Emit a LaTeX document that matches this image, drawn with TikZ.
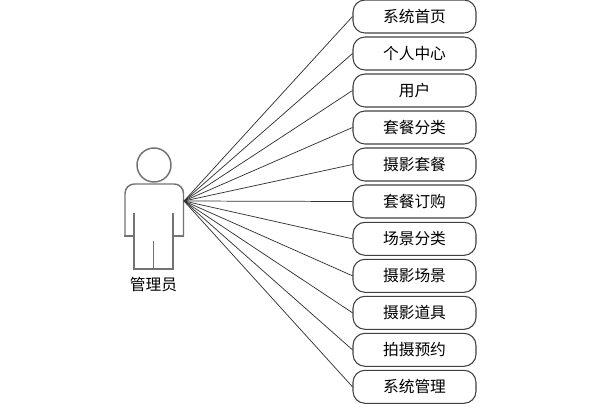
\documentclass[tikz,border=0pt]{standalone}
\usepackage{fontspec}
\setmainfont{Noto Sans CJK SC}
\begin{document}
\begin{tikzpicture}[
        x=0.75pt, y=-0.75pt,
        func/.style={rectangle, rounded corners=9pt, draw=black!75, line width=0.8pt, minimum width=92.25pt, minimum height=24.75pt, inner sep=0pt},
        actor/.style={draw=black!55, line width=1.1pt, line cap=rect},
        edge/.style={draw=black!80, line width=0.55pt},
        every node/.style={font=\fontsize{11.8pt}{13pt}\selectfont}
        ]
      \useasboundingbox (0,0) rectangle (616,411);
      \node[func] (f1) at (414.5,16.5) {系统首页};
      \node[func] (f2) at (414.5,53.5) {个人中心};
      \node[func] (f3) at (414.5,90.5) {用户};
      \node[func] (f4) at (414.5,127.5) {套餐分类};
      \node[func] (f5) at (414.5,164.5) {摄影套餐};
      \node[func] (f6) at (414.5,201.5) {套餐订购};
      \node[func] (f7) at (414.5,238.8) {场景分类};
      \node[func] (f8) at (414.5,275.8) {摄影场景};
      \node[func] (f9) at (414.5,312.8) {摄影道具};
      \node[func] (f10) at (414.5,349.8) {拍摄预约};
      \node[func] (f11) at (414.5,386.8) {系统管理};

      % stick figure
      \node[actor, circle, minimum size=25.5pt, inner sep=0pt] (head) at (154,165) {};
      \draw[actor, rounded corners=7pt] (125,236) -- (125,184) -- (183.5,184) -- (183.5,236);
      \draw[actor] (125,236) -- (134,236);
      \draw[actor] (183.5,236) -- (173,236);
      \draw[actor] (134,214) -- (134,269) -- (173,269) -- (173,214);
      \draw[actor] (153.5,242) -- (153.5,269);
      \node (name) at (153.5,285) {管理员};
      \coordinate (hand) at (184,201);

      \draw[edge] (hand) -- (f1.west);
      \draw[edge] (hand) -- (f2.west);
      \draw[edge] (hand) -- (f3.west);
      \draw[edge] (hand) -- (f4.west);
      \draw[edge] (hand) -- (f5.west);
      \draw[edge] (hand) -- (f6.west);
      \draw[edge] (hand) -- (f7.west);
      \draw[edge] (hand) -- (f8.west);
      \draw[edge] (hand) -- (f9.west);
      \draw[edge] (hand) -- (f10.west);
      \draw[edge] (hand) -- (f11.west);

    \end{tikzpicture}
\end{document}
